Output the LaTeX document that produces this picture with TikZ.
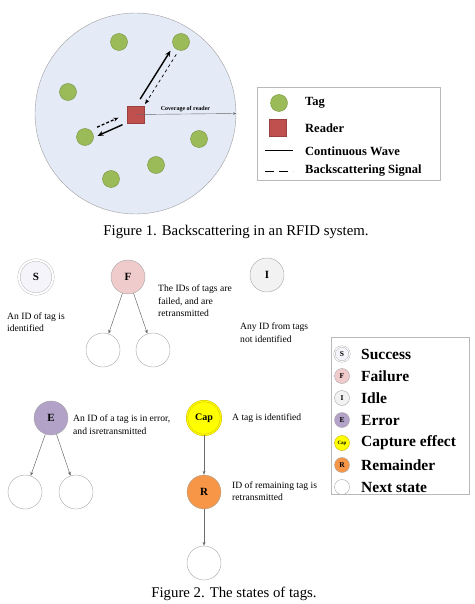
\documentclass[tikz,border=0pt]{standalone}
\usepackage{fontspec}
\setmainfont{Liberation Serif}
\definecolor{tagfill}{HTML}{9BBB59}
\definecolor{tagline}{HTML}{77933C}
\definecolor{readerfill}{HTML}{C0504D}
\definecolor{areafill}{HTML}{E4EAF6}
\definecolor{failfill}{HTML}{F0CBCB}
\definecolor{idlefill}{HTML}{F2F2F2}
\definecolor{errfill}{HTML}{B3A2C7}
\definecolor{capfill}{HTML}{FFFF00}
\definecolor{capline}{HTML}{C8B000}
\definecolor{remfill}{HTML}{F79646}
\definecolor{succfill}{HTML}{F4F4FA}
\usetikzlibrary{arrows.meta,positioning,shapes.geometric}

\begin{document}
\begin{tikzpicture}[x=1pt, y=-1pt,
  tag/.style={circle, draw=tagline, fill=tagfill, minimum size=17pt, inner sep=0pt},
  reader/.style={rectangle, draw=readerfill!80!black, fill=readerfill, minimum size=17pt, inner sep=0pt},
  wave/.style={-{Stealth[length=6pt,width=5pt]}, line width=1.4pt},
  backscat/.style={-{Stealth[length=5pt,width=4pt]}, dashed, line width=0.7pt},
  legtext/.style={anchor=west, inner sep=0pt, font=\bfseries\fontsize{12.5}{14}\selectfont},
  state/.style={circle, draw=gray!70, minimum size=34pt, inner sep=0pt,
    font=\bfseries\fontsize{11}{12}\selectfont},
  nextstate/.style={state, fill=white},
  desc/.style={anchor=west, inner sep=0pt, align=left, font=\fontsize{9.6}{12.5}\selectfont},
  trans/.style={-{Stealth[length=4pt,width=3pt]}, draw=gray!85!black, line width=0.5pt},
  legdot/.style={circle, draw=gray!70, minimum size=15pt, inner sep=0pt,
    font=\bfseries\fontsize{7.5}{8}\selectfont},
  legstate/.style={anchor=west, inner sep=0pt, font=\bfseries\fontsize{15.5}{17}\selectfont},
  caption/.style={inner sep=0pt, font=\fontsize{14.8}{16}\selectfont}
]
  \useasboundingbox (0,0) rectangle (474,604);

  % Figure 1: reader coverage area
  \node[circle, draw=gray!75, fill=areafill, minimum size=201pt, inner sep=0pt] (area) at (135.5,113.5) {};
  \node[reader] (reader) at (135.5,114.5) {};

  % Tags
  \node[tag] (t1) at (119,42) {};
  \node[tag] (t2) at (181,42) {};
  \node[tag] (t3) at (68,92) {};
  \node[tag] (t4) at (85,137) {};
  \node[tag] (t5) at (199,139) {};
  \node[tag] (t6) at (156,165) {};
  \node[tag] (t7) at (111,179) {};

  % Coverage
  \draw[-{Stealth[length=3pt,width=2.5pt]}, gray!80!black, line width=0.4pt] (reader.center) -- (area.east);
  \node[inner sep=0pt, font=\bfseries\fontsize{6}{7}\selectfont] (cov) at (185.5,109) {Coverage of reader};

  % Signals
  \draw[wave, shorten <=15.5pt, shorten >=13pt]
    ([shift={(-3.6,-2.3)}]reader.center) -- ([shift={(-3.6,-2.3)}]t2.center);
  \draw[backscat, shorten <=13pt, shorten >=14pt]
    ([shift={(2.2,1.4)}]t2.center) -- ([shift={(2.2,1.4)}]reader.center);
  \draw[wave, shorten <=16pt, shorten >=12pt]
    ([shift={(1.6,3.7)}]reader.center) -- ([shift={(1.6,3.7)}]t4.center);
  \draw[backscat, line width=1.3pt, dash pattern=on 3pt off 2pt, shorten <=15pt, shorten >=17pt]
    ([shift={(-1.6,-3.7)}]t4.center) -- ([shift={(-1.6,-3.7)}]reader.center);

  % Legend of figure 1
  \node[draw=gray!55, minimum width=183pt, minimum height=93pt, inner sep=0pt] (legA) at (348.5,133.5) {};
  \node[tag] (ltag) at (279,103) {};
  \node[legtext] at (305,103) {Tag};
  \node[reader] (lreader) at (278,128) {};
  \node[legtext] at (305,128) {Reader};
  \coordinate (lw1) at (265,151);
  \coordinate (lw2) at (293,151);
  \draw[line width=1pt] (lw1) -- (lw2);
  \node[legtext] at (305,151) {Continuous Wave};
  \coordinate (lb1) at (265,171);
  \coordinate (lb2) at (293,171);
  \draw[line width=1pt, dash pattern=on 9pt off 5pt] (lb1) -- (lb2);
  \node[legtext] at (305,171) {Backscattering Signal};

  \node[caption] (cap1) at (236,232) {Figure 1. Backscattering in an RFID system.};

  % Figure 2: states
  \node[state, double=white, double distance=2pt, draw=gray!60, fill=succfill] (S) at (36,277) {S};
  \node[desc] at (7,322) {An ID of tag is\\identified};

  \node[state, fill=failfill] (F) at (128,277) {F};
  \node[desc] at (158,301) {The IDs of tags are\\failed, and are\\retransmitted};
  \node[nextstate] (F1) at (103,350) {};
  \node[nextstate] (F2) at (153,350) {};
  \draw[trans] (F) -- (F1);
  \draw[trans] (F) -- (F2);

  \node[state, fill=idlefill] (I) at (267,275) {I};
  \node[desc] at (240,332.5) {Any ID from tags\\not identified};

  \node[state, fill=errfill] (E) at (51,418) {E};
  \node[desc] at (73,424.5) {An ID of a tag is in error,\\and isretransmitted};
  \node[nextstate] (E1) at (25,492) {};
  \node[nextstate] (E2) at (76,492) {};
  \draw[trans] (E) -- (E1);
  \draw[trans] (E) -- (E2);

  \node[state, fill=capfill, draw=capline, double=capfill, double distance=1.2pt,
    font=\bfseries\fontsize{10}{11}\selectfont] (Cap) at (204,418) {Cap};
  \node[desc] at (232,418) {A tag is identified};
  \node[state, fill=remfill] (R) at (204,492) {R};
  \node[desc] at (232,491) {ID of remaining tag is\\retransmitted};
  \node[nextstate] (R1) at (204,563) {};
  \draw[trans] (Cap) -- (R);
  \draw[trans] (R) -- (R1);

  % Legend of figure 2
  \node[draw=gray!55, minimum width=138pt, minimum height=157pt, inner sep=0pt] (legB) at (400,415.5) {};
  \node[legdot, double=white, double distance=1pt, fill=succfill] (lS) at (342,354) {S};
  \node[legstate] at (361,354) {Success};
  \node[legdot, fill=failfill] (lF) at (342,376) {F};
  \node[legstate] at (361,376) {Failure};
  \node[legdot, fill=idlefill] (lI) at (342,398) {I};
  \node[legstate] at (361,398) {Idle};
  \node[legdot, fill=errfill] (lE) at (342,420) {E};
  \node[legstate] at (361,420) {Error};
  \node[legdot, fill=capfill, draw=capline, font=\bfseries\fontsize{5}{6}\selectfont] (lCap) at (342,443) {Cap};
  \node[legstate] at (361,443) {Capture effect};
  \node[legdot, fill=remfill] (lR) at (342,465) {R};
  \node[legstate] at (361,465) {Remainder};
  \node[legdot, fill=white] (lN) at (342,487) {};
  \node[legstate] at (361,487) {Next state};

  \node[caption] (cap2) at (234,594) {Figure 2. The states of tags.};
\end{tikzpicture}
\end{document}
